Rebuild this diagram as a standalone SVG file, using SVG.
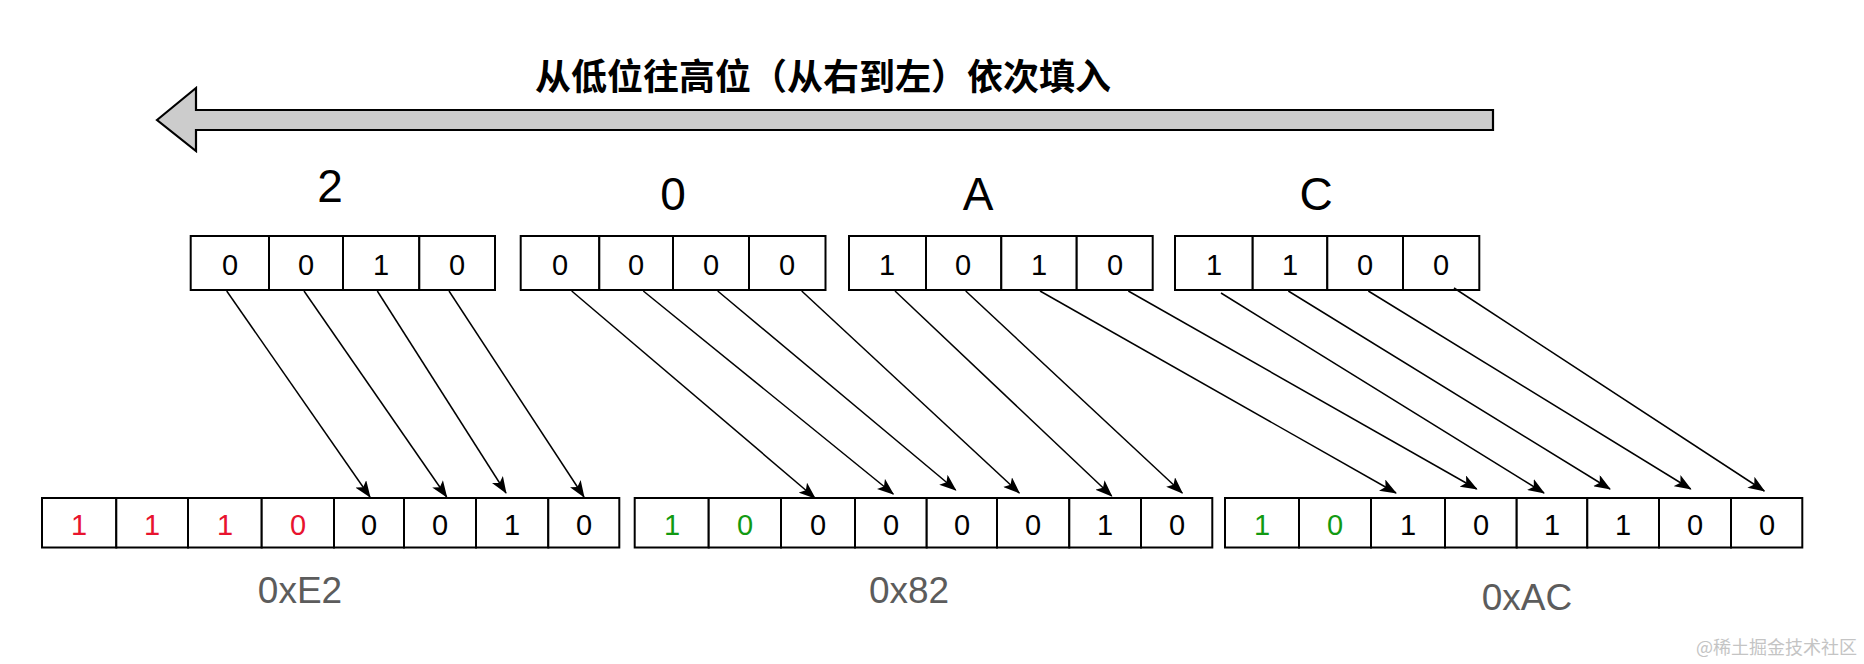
<svg xmlns="http://www.w3.org/2000/svg" width="1864" height="664" viewBox="0 0 1864 664">
<style>
.cell{fill:#ffffff;stroke:#000000;stroke-width:2}
.d{font-family:"Liberation Sans",Arial,sans-serif;font-size:29px;text-anchor:middle;fill:#000000}
.r{fill:#e8132e}
.g{fill:#129a12}
.hex{font-family:"Liberation Sans",Arial,sans-serif;font-size:46px;text-anchor:middle;fill:#000000}
.lab{font-family:"Liberation Sans",Arial,sans-serif;font-size:37px;text-anchor:middle;fill:#5c5c5c}
.conn line{stroke:#000000;stroke-width:1.5;marker-end:url(#ah)}
</style>
<defs>
<marker id="ah" markerUnits="userSpaceOnUse" viewBox="0 0 17 13" markerWidth="17" markerHeight="13" refX="16" refY="6.5" orient="auto">
<path d="M0,0 L17,6.5 L0,13 L4,6.5 Z" fill="#000000"/>
</marker>
</defs>
<rect width="1864" height="664" fill="#ffffff"/>

<g id="title">
<text x="823" y="90" font-family="'Noto Sans CJK SC','Noto Sans',sans-serif" font-size="36" font-weight="bold" text-anchor="middle" fill="#000000">从低位往高位（从右到左）依次填入</text>
</g>

<g id="bigArrow">
<polygon points="157,120 196,88 196,110 1493,110 1493,130 196,130 196,151" fill="#cccccc" stroke="#000000" stroke-width="2.2" stroke-linejoin="miter"/>
</g>

<g id="hexLabels">
<text class="hex" x="330" y="202">2</text>
<text class="hex" x="673" y="210">0</text>
<text class="hex" x="978" y="210">A</text>
<text class="hex" x="1316" y="210">C</text>
</g>

<g id="nib2">
<rect class="cell" x="190.7" y="236" width="78.3" height="54"/>
<rect class="cell" x="269" y="236" width="74" height="54"/>
<rect class="cell" x="343" y="236" width="76.3" height="54"/>
<rect class="cell" x="419.3" y="236" width="75.7" height="54"/>
<text class="d" x="230" y="275">0</text>
<text class="d" x="306" y="275">0</text>
<text class="d" x="381" y="275">1</text>
<text class="d" x="457" y="275">0</text>
</g>

<g id="nib0">
<rect class="cell" x="520.7" y="236" width="78.6" height="54"/>
<rect class="cell" x="599.3" y="236" width="73.7" height="54"/>
<rect class="cell" x="673" y="236" width="76" height="54"/>
<rect class="cell" x="749" y="236" width="76.5" height="54"/>
<text class="d" x="560" y="275">0</text>
<text class="d" x="636" y="275">0</text>
<text class="d" x="711" y="275">0</text>
<text class="d" x="787" y="275">0</text>
</g>

<g id="nibA">
<rect class="cell" x="849" y="236" width="77" height="54"/>
<rect class="cell" x="926" y="236" width="75.3" height="54"/>
<rect class="cell" x="1001.3" y="236" width="75.4" height="54"/>
<rect class="cell" x="1076.7" y="236" width="76" height="54"/>
<text class="d" x="887" y="275">1</text>
<text class="d" x="963" y="275">0</text>
<text class="d" x="1039" y="275">1</text>
<text class="d" x="1115" y="275">0</text>
</g>

<g id="nibC">
<rect class="cell" x="1175" y="236" width="77.7" height="54"/>
<rect class="cell" x="1252.7" y="236" width="74.6" height="54"/>
<rect class="cell" x="1327.3" y="236" width="75.7" height="54"/>
<rect class="cell" x="1403" y="236" width="76.3" height="54"/>
<text class="d" x="1214" y="275">1</text>
<text class="d" x="1290" y="275">1</text>
<text class="d" x="1365" y="275">0</text>
<text class="d" x="1441" y="275">0</text>
</g>

<g id="byteE2">
<rect class="cell" x="42" y="498" width="74.3" height="49.5"/>
<rect class="cell" x="116.3" y="498" width="71.7" height="49.5"/>
<rect class="cell" x="188" y="498" width="73.7" height="49.5"/>
<rect class="cell" x="261.7" y="498" width="72.3" height="49.5"/>
<rect class="cell" x="334" y="498" width="70" height="49.5"/>
<rect class="cell" x="404" y="498" width="72" height="49.5"/>
<rect class="cell" x="476" y="498" width="72.3" height="49.5"/>
<rect class="cell" x="548.3" y="498" width="71" height="49.5"/>
<text class="d r" x="79" y="535">1</text>
<text class="d r" x="152" y="535">1</text>
<text class="d r" x="225" y="535">1</text>
<text class="d r" x="298" y="535">0</text>
<text class="d" x="369" y="535">0</text>
<text class="d" x="440" y="535">0</text>
<text class="d" x="512" y="535">1</text>
<text class="d" x="584" y="535">0</text>
<text class="lab" x="300" y="603">0xE2</text>
</g>

<g id="byte82">
<rect class="cell" x="634.7" y="498" width="74" height="49.5"/>
<rect class="cell" x="708.7" y="498" width="72.3" height="49.5"/>
<rect class="cell" x="781" y="498" width="74" height="49.5"/>
<rect class="cell" x="855" y="498" width="71.7" height="49.5"/>
<rect class="cell" x="926.7" y="498" width="70.3" height="49.5"/>
<rect class="cell" x="997" y="498" width="72.3" height="49.5"/>
<rect class="cell" x="1069.3" y="498" width="71.7" height="49.5"/>
<rect class="cell" x="1141" y="498" width="71.3" height="49.5"/>
<text class="d g" x="672" y="535">1</text>
<text class="d g" x="745" y="535">0</text>
<text class="d" x="818" y="535">0</text>
<text class="d" x="891" y="535">0</text>
<text class="d" x="962" y="535">0</text>
<text class="d" x="1033" y="535">0</text>
<text class="d" x="1105" y="535">1</text>
<text class="d" x="1177" y="535">0</text>
<text class="lab" x="909" y="603">0x82</text>
</g>

<g id="byteAC">
<rect class="cell" x="1225" y="498" width="74" height="49.5"/>
<rect class="cell" x="1299" y="498" width="72" height="49.5"/>
<rect class="cell" x="1371" y="498" width="74" height="49.5"/>
<rect class="cell" x="1445" y="498" width="71.7" height="49.5"/>
<rect class="cell" x="1516.7" y="498" width="70.6" height="49.5"/>
<rect class="cell" x="1587.3" y="498" width="71.7" height="49.5"/>
<rect class="cell" x="1659" y="498" width="72" height="49.5"/>
<rect class="cell" x="1731" y="498" width="71.3" height="49.5"/>
<text class="d g" x="1262" y="535">1</text>
<text class="d g" x="1335" y="535">0</text>
<text class="d" x="1408" y="535">1</text>
<text class="d" x="1481" y="535">0</text>
<text class="d" x="1552" y="535">1</text>
<text class="d" x="1623" y="535">1</text>
<text class="d" x="1695" y="535">0</text>
<text class="d" x="1767" y="535">0</text>
<text class="lab" x="1527" y="610">0xAC</text>
</g>

<g id="connectors" class="conn">
<line x1="226.7" y1="291" x2="370" y2="497"/>
<line x1="304" y1="291" x2="446.7" y2="497"/>
<line x1="377.3" y1="291" x2="506" y2="493"/>
<line x1="449" y1="291" x2="584" y2="497"/>
<line x1="571.7" y1="291" x2="815" y2="498"/>
<line x1="643.3" y1="291" x2="893.3" y2="494"/>
<line x1="717.7" y1="291" x2="955.7" y2="490"/>
<line x1="801.7" y1="291" x2="1019.3" y2="493"/>
<line x1="895" y1="291" x2="1111.7" y2="496"/>
<line x1="965.7" y1="291" x2="1182.3" y2="493"/>
<line x1="1040" y1="291" x2="1396" y2="493"/>
<line x1="1128.3" y1="291" x2="1476.7" y2="489"/>
<line x1="1221" y1="293" x2="1544" y2="493"/>
<line x1="1288.3" y1="291" x2="1610" y2="489"/>
<line x1="1368.3" y1="291" x2="1690.7" y2="489"/>
<line x1="1454" y1="288" x2="1764.3" y2="491"/>
</g>

<g id="watermark">
<text x="1857" y="654" font-family="'Noto Sans CJK SC','Noto Sans',sans-serif" font-size="18" text-anchor="end" fill="#c4c4c4">@稀土掘金技术社区</text>
</g>
</svg>
